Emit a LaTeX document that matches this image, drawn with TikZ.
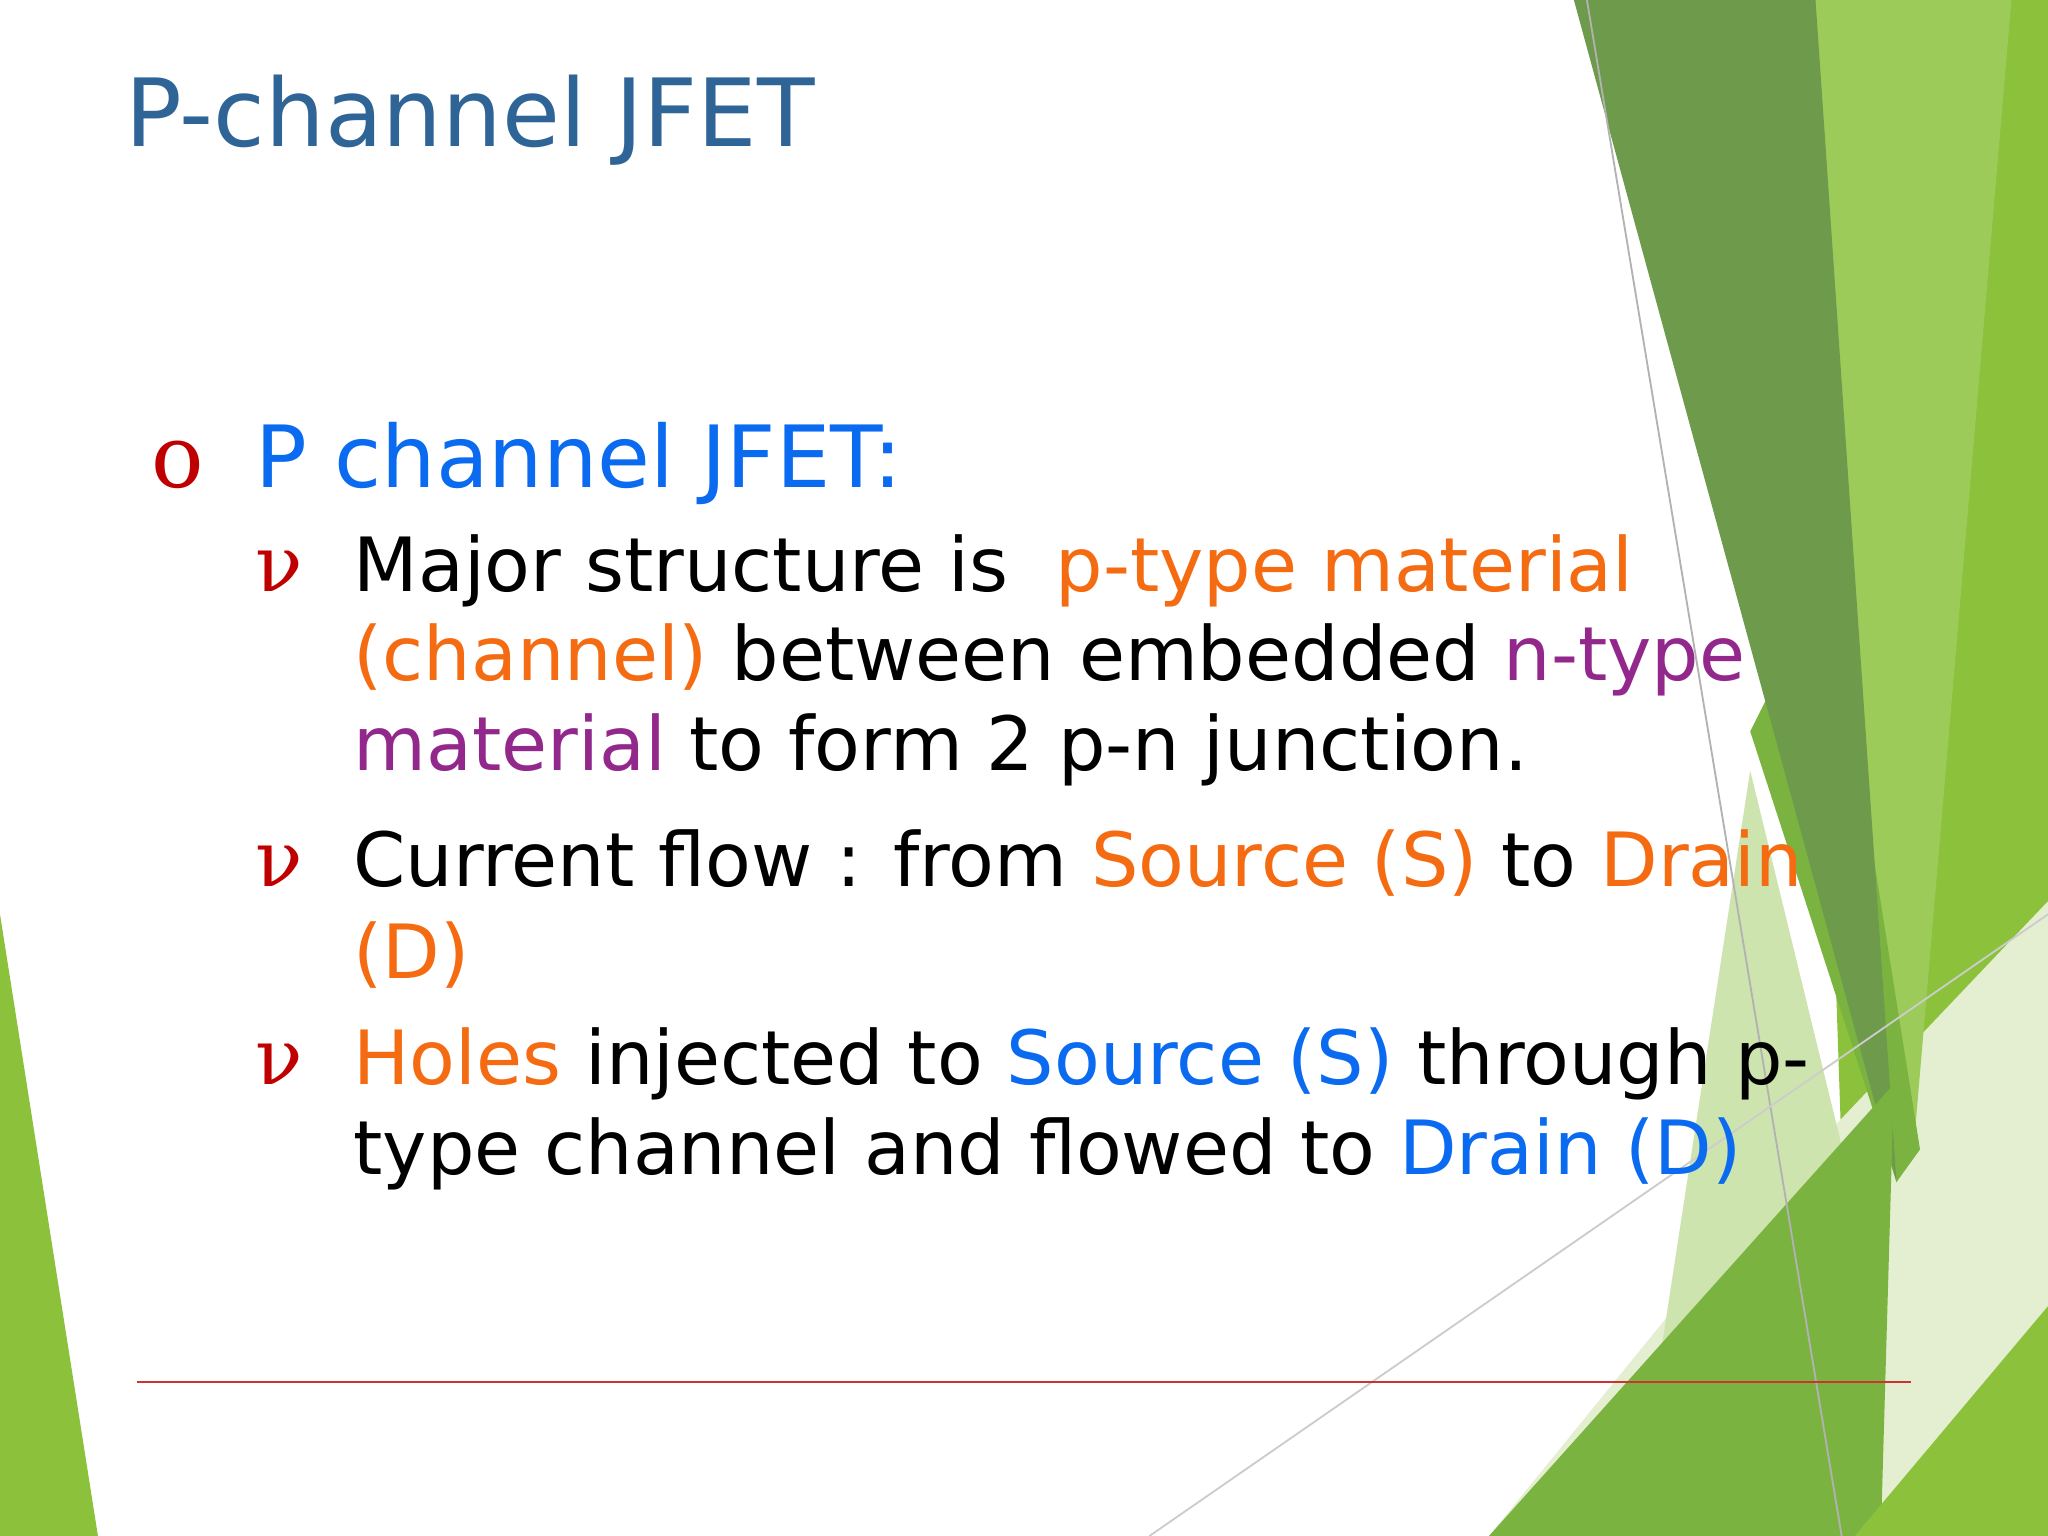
\documentclass[tikz,border=0pt]{standalone}
\usepackage{fontspec}
\setmainfont{DejaVu Sans}
\newfontfamily\bulfont{DejaVu Serif}
\definecolor{ttl}{HTML}{2F6496}
\definecolor{bl}{HTML}{0A6AF0}
\definecolor{org}{HTML}{F46B12}
\definecolor{pur}{HTML}{93288C}
\definecolor{rd}{HTML}{C00000}
\definecolor{g1}{HTML}{8CC13C}
\definecolor{g2}{HTML}{6E9A4C}
\definecolor{g3}{HTML}{7BB340}
\definecolor{g4}{HTML}{E4EFD2}
\definecolor{g5}{HTML}{9CCB5A}
\begin{document}
\begin{tikzpicture}[x=0.1mm,y=-0.1mm,
  body/.style={anchor=base west,inner sep=0pt,font=\fontsize{16.3}{20}\selectfont},
  bul/.style={anchor=base west,inner sep=0pt,text=rd,font=\fontsize{17}{20}\selectfont\bulfont}]
\useasboundingbox (0,0) rectangle (1568,1176);
\fill[white] (0,0) rectangle (1568,1176);
% decorations
\fill[g1] (1380,0)--(1568,0)--(1568,1176)--(1420,1176)--cycle;
\fill[g4] (1140,1176)--(1340,930)--(1568,690)--(1568,1176)--cycle;
\fill[g4!70!g5] (1250,1176)--(1340,590)--(1440,1000)--(1400,1176)--cycle;
\fill[g5] (1330,0)--(1540,0)--(1465,880)--(1452,905)--cycle;
\fill[g3] (1340,560)--(1400,440)--(1470,880)--(1452,905)--cycle;
\fill[g2] (1205,0)--(1390,0)--(1452,905)--cycle;
\fill[g3] (1140,1176)--(1450,830)--(1440,1176)--cycle;
\fill[g1] (1420,1176)--(1568,1000)--(1568,1176)--cycle;
\fill[g1] (0,700)--(75,1176)--(0,1176)--cycle;
\draw[gray!60,line width=0.4pt] (1215,0)--(1410,1176);
\draw[gray!40,line width=0.4pt] (880,1176)--(1568,700);
\draw[rd!80,line width=0.4pt] (105,1058)--(1463,1058);
% text
\node[anchor=base west,inner sep=0pt,text=ttl,font=\fontsize{20.5}{26}\selectfont] (title) at (95,112) {P-channel JFET};
\node[anchor=base west,inner sep=0pt,text=rd,font=\fontsize{19}{22}\selectfont\bulfont] (b0) at (115,373) {o};
\node[anchor=base west,inner sep=0pt,text=bl,font=\fontsize{18.7}{22}\selectfont] (h) at (195,373) {P channel JFET:};
\node[bul] (v1) at (195,453) {ν};
\node[body] (l1) at (270,453) {Major structure is\ \ \textcolor{org}{p-type material}};
\node[body] (l2) at (270,521) {\textcolor{org}{(channel)} between embedded \textcolor{pur}{n-type}};
\node[body] (l3) at (270,590) {\textcolor{pur}{material} to form 2 p-n junction.};
\node[bul] (v2) at (195,679) {ν};
\node[body] (l4) at (270,679) {Current flow : from \textcolor{org}{Source (S)} to \textcolor{org}{Drain}};
\node[body] (l5) at (270,749) {\textcolor{org}{(D)}};
\node[bul] (v3) at (195,830) {ν};
\node[body] (l6) at (270,830) {\textcolor{org}{Holes} injected to \textcolor{bl}{Source (S)} through p-};
\node[body] (l7) at (270,899) {type channel and flowed to \textcolor{bl}{Drain (D)}};
\end{tikzpicture}
\end{document}
